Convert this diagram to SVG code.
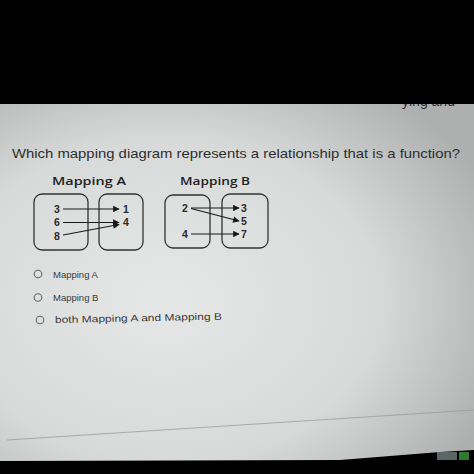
<svg xmlns="http://www.w3.org/2000/svg" width="474" height="474" viewBox="0 0 474 474">
<defs>
<radialGradient id="bg" cx="0.35" cy="0.55" r="0.75">
<stop offset="0" stop-color="#e6e8e8"/>
<stop offset="0.6" stop-color="#d8dada"/>
<stop offset="1" stop-color="#aeb0b0"/>
</radialGradient>
<marker id="ah" viewBox="0 0 10 10" refX="9" refY="5" markerWidth="9" markerHeight="6.5" markerUnits="userSpaceOnUse" orient="auto">
<path d="M0,0 L10,5 L0,10 z" fill="#1a1a1a"/>
</marker>
<clipPath id="panel"><rect x="0" y="104" width="474" height="360"/></clipPath>
</defs>
<style>
.q{font-family:"Liberation Sans",Arial,sans-serif;fill:#2e2e2e}
.t{font-family:"Open Sans","Noto Sans",sans-serif;font-size:11.5px;fill:#222;font-weight:600}
.n{font-family:"Liberation Sans",Arial,sans-serif;font-size:10.5px;font-weight:bold;fill:#2a2a2a}
.box{fill:none;stroke:#333;stroke-width:1.3}
.arr{stroke:#1a1a1a;stroke-width:1.2;fill:none;marker-end:url(#ah)}
.opt{font-family:"Liberation Sans",Arial,sans-serif;font-size:9.5px;fill:#3a3a3a}
.rad{fill:none;stroke:#666;stroke-width:1.1}
</style>
<rect width="474" height="474" fill="#000"/>
<path d="M0,104 L474,104 L474,450 L440,452 L340,460 L0,461 Z" fill="url(#bg)"/>
<line x1="7" y1="440" x2="474" y2="410" stroke="#9a9c9c" stroke-width="0.8"/>
<rect x="437" y="452" width="20" height="8" fill="#9aa" opacity="0.6"/>
<rect x="459" y="452" width="10" height="8" fill="#2e7a2e"/>
<text class="q" x="402" y="105.5" font-size="14" clip-path="url(#panel)" fill="#555">ying and</text>
<text class="q" x="12" y="158" font-size="13" textLength="448" lengthAdjust="spacingAndGlyphs">Which mapping diagram represents a relationship that is a function?</text>
<g id="mappingA">
<text class="t" x="52" y="185" textLength="74" lengthAdjust="spacingAndGlyphs">Mapping A</text>
<rect class="box" x="34" y="194" width="54" height="56" rx="8"/>
<rect class="box" x="99" y="194" width="44" height="56" rx="8"/>
<text class="n" x="57" y="212.5" text-anchor="middle">3</text>
<text class="n" x="57" y="226" text-anchor="middle">6</text>
<text class="n" x="57" y="239.5" text-anchor="middle">8</text>
<text class="n" x="126" y="212.5" text-anchor="middle">1</text>
<text class="n" x="126" y="226" text-anchor="middle">4</text>
</g>
<g id="mappingB">
<text class="t" x="180" y="185" textLength="70" lengthAdjust="spacingAndGlyphs">Mapping B</text>
<rect class="box" x="165" y="195" width="45" height="53" rx="8"/>
<rect class="box" x="222" y="194" width="46" height="54" rx="8"/>
<text class="n" x="185" y="211.5" text-anchor="middle">2</text>
<text class="n" x="185" y="237.5" text-anchor="middle">4</text>
<text class="n" x="244" y="211.5" text-anchor="middle">3</text>
<text class="n" x="244" y="225" text-anchor="middle">5</text>
<text class="n" x="244" y="237.5" text-anchor="middle">7</text>
</g>
<g id="connectors">
<line class="arr" x1="63" y1="209" x2="119" y2="209"/>
<line class="arr" x1="63" y1="222.5" x2="119" y2="222.5"/>
<line class="arr" x1="63" y1="235" x2="119" y2="224.5"/>
<line class="arr" x1="191" y1="208" x2="239" y2="208"/>
<line class="arr" x1="191" y1="208.5" x2="239" y2="221"/>
<line class="arr" x1="191" y1="234" x2="239" y2="234"/>
</g>
<g id="options">
<circle class="rad" cx="38" cy="274" r="3.8"/>
<text class="opt" x="53" y="277.5">Mapping A</text>
<circle class="rad" cx="38" cy="297.5" r="3.8"/>
<text class="opt" x="53" y="301">Mapping B</text>
<circle class="rad" cx="40" cy="320" r="3.8"/>
<text class="opt" x="55" y="323" textLength="167" lengthAdjust="spacingAndGlyphs" transform="rotate(-1.2 55 323)">both Mapping A and Mapping B</text>
</g>
</svg>
